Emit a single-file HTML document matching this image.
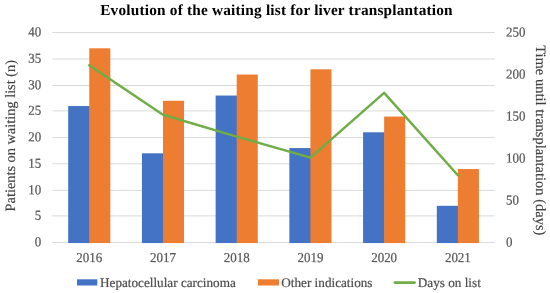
<!DOCTYPE html>
<html><head><meta charset="utf-8"><style>
html,body{margin:0;padding:0;background:#fff;}
svg{display:block;} text{text-rendering:geometricPrecision;}
</style></head><body>
<svg width="550" height="293" viewBox="0 0 550 293">
<rect width="550" height="293" fill="#fff"/>
<line x1="52.40" x2="494.72" y1="242.45" y2="242.45" stroke="#D9D9D9" stroke-width="1"/>
<line x1="52.40" x2="494.72" y1="215.90" y2="215.90" stroke="#D9D9D9" stroke-width="1"/>
<line x1="52.40" x2="494.72" y1="190.40" y2="190.40" stroke="#D9D9D9" stroke-width="1"/>
<line x1="52.40" x2="494.72" y1="163.80" y2="163.80" stroke="#D9D9D9" stroke-width="1"/>
<line x1="52.40" x2="494.72" y1="137.45" y2="137.45" stroke="#D9D9D9" stroke-width="1"/>
<line x1="52.40" x2="494.72" y1="110.90" y2="110.90" stroke="#D9D9D9" stroke-width="1"/>
<line x1="52.40" x2="494.72" y1="85.50" y2="85.50" stroke="#D9D9D9" stroke-width="1"/>
<line x1="52.40" x2="494.72" y1="59.00" y2="59.00" stroke="#D9D9D9" stroke-width="1"/>
<line x1="52.40" x2="494.72" y1="32.50" y2="32.50" stroke="#D9D9D9" stroke-width="1"/>
<rect x="68.20" y="106.05" width="21.66" height="137.00" fill="#4472C4"/>
<rect x="89.26" y="48.30" width="21.06" height="194.75" fill="#ED7D31"/>
<rect x="141.92" y="153.30" width="21.66" height="89.75" fill="#4472C4"/>
<rect x="162.98" y="100.80" width="21.06" height="142.25" fill="#ED7D31"/>
<rect x="215.64" y="95.55" width="21.66" height="147.50" fill="#4472C4"/>
<rect x="236.70" y="74.55" width="21.06" height="168.50" fill="#ED7D31"/>
<rect x="289.36" y="148.05" width="21.66" height="95.00" fill="#4472C4"/>
<rect x="310.42" y="69.30" width="21.06" height="173.75" fill="#ED7D31"/>
<rect x="363.08" y="132.30" width="21.66" height="110.75" fill="#4472C4"/>
<rect x="384.14" y="116.55" width="21.06" height="126.50" fill="#ED7D31"/>
<rect x="436.80" y="205.80" width="21.66" height="37.25" fill="#4472C4"/>
<rect x="457.86" y="169.05" width="21.06" height="74.00" fill="#ED7D31"/>
<polyline points="89.26,65.21 162.98,114.77 236.70,136.61 310.42,157.61 384.14,92.93 457.86,175.25" fill="none" stroke="#70AD47" stroke-width="2.5" stroke-linejoin="round" stroke-linecap="round"/>
<text transform="translate(41.2,246.35) scale(0.9537,1) skewY(0.3)" text-anchor="end" font-family="Liberation Serif, serif" font-size="13.6" fill="#555" stroke="#555" stroke-width="0.2">0</text>
<text transform="translate(41.2,219.80) scale(0.9537,1) skewY(0.3)" text-anchor="end" font-family="Liberation Serif, serif" font-size="13.6" fill="#555" stroke="#555" stroke-width="0.2">5</text>
<text transform="translate(41.2,194.30) scale(0.9537,1) skewY(0.3)" text-anchor="end" font-family="Liberation Serif, serif" font-size="13.6" fill="#555" stroke="#555" stroke-width="0.2">10</text>
<text transform="translate(41.2,167.70) scale(0.9537,1) skewY(0.3)" text-anchor="end" font-family="Liberation Serif, serif" font-size="13.6" fill="#555" stroke="#555" stroke-width="0.2">15</text>
<text transform="translate(41.2,141.35) scale(0.9537,1) skewY(0.3)" text-anchor="end" font-family="Liberation Serif, serif" font-size="13.6" fill="#555" stroke="#555" stroke-width="0.2">20</text>
<text transform="translate(41.2,114.80) scale(0.9537,1) skewY(0.3)" text-anchor="end" font-family="Liberation Serif, serif" font-size="13.6" fill="#555" stroke="#555" stroke-width="0.2">25</text>
<text transform="translate(41.2,89.40) scale(0.9537,1) skewY(0.3)" text-anchor="end" font-family="Liberation Serif, serif" font-size="13.6" fill="#555" stroke="#555" stroke-width="0.2">30</text>
<text transform="translate(41.2,62.90) scale(0.9537,1) skewY(0.3)" text-anchor="end" font-family="Liberation Serif, serif" font-size="13.6" fill="#555" stroke="#555" stroke-width="0.2">35</text>
<text transform="translate(41.2,36.40) scale(0.9537,1) skewY(0.3)" text-anchor="end" font-family="Liberation Serif, serif" font-size="13.6" fill="#555" stroke="#555" stroke-width="0.2">40</text>
<text transform="translate(506.0,246.45) scale(0.9537,1) skewY(0.3)" font-family="Liberation Serif, serif" font-size="13.6" fill="#555" stroke="#555" stroke-width="0.2">0</text>
<text transform="translate(506.0,204.45) scale(0.9537,1) skewY(0.3)" font-family="Liberation Serif, serif" font-size="13.6" fill="#555" stroke="#555" stroke-width="0.2">50</text>
<text transform="translate(506.0,162.45) scale(0.9537,1) skewY(0.3)" font-family="Liberation Serif, serif" font-size="13.6" fill="#555" stroke="#555" stroke-width="0.2">100</text>
<text transform="translate(506.0,120.45) scale(0.9537,1) skewY(0.3)" font-family="Liberation Serif, serif" font-size="13.6" fill="#555" stroke="#555" stroke-width="0.2">150</text>
<text transform="translate(506.0,78.45) scale(0.9537,1) skewY(0.3)" font-family="Liberation Serif, serif" font-size="13.6" fill="#555" stroke="#555" stroke-width="0.2">200</text>
<text transform="translate(506.0,36.45) scale(0.9537,1) skewY(0.3)" font-family="Liberation Serif, serif" font-size="13.6" fill="#555" stroke="#555" stroke-width="0.2">250</text>
<text transform="translate(89.26,262.0) scale(0.9537,1) skewY(0.3)" text-anchor="middle" font-family="Liberation Serif, serif" font-size="13.6" fill="#555" stroke="#555" stroke-width="0.2">2016</text>
<text transform="translate(162.98,262.0) scale(0.9537,1) skewY(0.3)" text-anchor="middle" font-family="Liberation Serif, serif" font-size="13.6" fill="#555" stroke="#555" stroke-width="0.2">2017</text>
<text transform="translate(236.70,262.0) scale(0.9537,1) skewY(0.3)" text-anchor="middle" font-family="Liberation Serif, serif" font-size="13.6" fill="#555" stroke="#555" stroke-width="0.2">2018</text>
<text transform="translate(310.42,262.0) scale(0.9537,1) skewY(0.3)" text-anchor="middle" font-family="Liberation Serif, serif" font-size="13.6" fill="#555" stroke="#555" stroke-width="0.2">2019</text>
<text transform="translate(384.14,262.0) scale(0.9537,1) skewY(0.3)" text-anchor="middle" font-family="Liberation Serif, serif" font-size="13.6" fill="#555" stroke="#555" stroke-width="0.2">2020</text>
<text transform="translate(457.86,262.0) scale(0.9537,1) skewY(0.3)" text-anchor="middle" font-family="Liberation Serif, serif" font-size="13.6" fill="#555" stroke="#555" stroke-width="0.2">2021</text>
<text x="100.2" y="14.7" textLength="352.4" lengthAdjust="spacing" font-family="Liberation Serif, serif" font-weight="bold" font-size="15.3" fill="#000">Evolution of the waiting list for liver transplantation</text>
<text transform="translate(14.6,211.4) rotate(-90)" textLength="151.4" lengthAdjust="spacing" font-family="Liberation Serif, serif" font-size="14.3" fill="#404040" stroke="#404040" stroke-width="0.15">Patients on waiting list (n)</text>
<text transform="translate(536.2,45.3) rotate(90)" textLength="190" lengthAdjust="spacing" font-family="Liberation Serif, serif" font-size="14.3" fill="#404040" stroke="#404040" stroke-width="0.15">Time until transplantation (days)</text>
<rect x="77" y="279.3" width="20.3" height="6.2" fill="#4472C4"/>
<text x="100" y="286.6" font-family="Liberation Serif, serif" font-size="13.2" fill="#4d4d4d" stroke="#4d4d4d" stroke-width="0.2">Hepatocellular carcinoma</text>
<rect x="258" y="279.3" width="21" height="6.2" fill="#ED7D31"/>
<text x="281.3" y="286.6" font-family="Liberation Serif, serif" font-size="13.2" fill="#4d4d4d" stroke="#4d4d4d" stroke-width="0.2">Other indications</text>
<line x1="394.9" x2="414.6" y1="282.6" y2="282.6" stroke="#70AD47" stroke-width="2.7" stroke-linecap="round"/>
<text x="417.8" y="286.6" font-family="Liberation Serif, serif" font-size="13.2" fill="#4d4d4d" stroke="#4d4d4d" stroke-width="0.2">Days on list</text>
</svg>
</body></html>
